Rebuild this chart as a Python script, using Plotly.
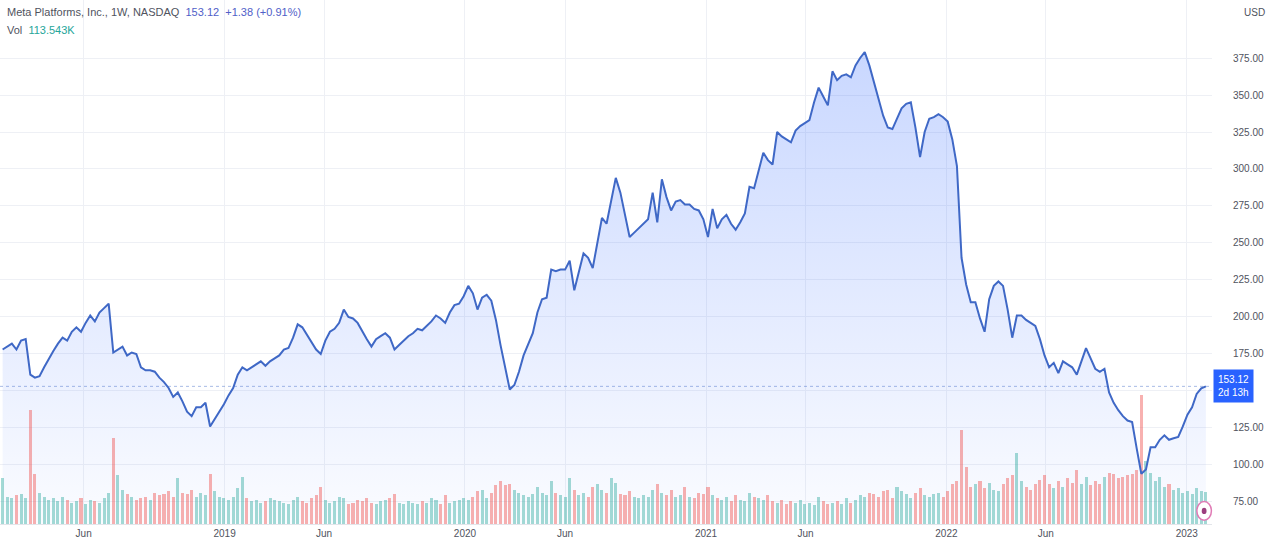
import pandas as pd
import plotly.graph_objects as go

# ---- data (weekly closes, Meta Platforms 1W) ----
week_start = "2018-01-29"
price = [
    178, 180, 182, 178, 184, 185, 161, 159, 160, 166,
    172, 177, 182, 186, 184, 190, 193, 190, 196, 201,
    197, 203, 206, 209, 176, 178, 180, 174, 176, 175,
    166, 164, 164, 163, 159, 156, 152, 146, 149, 143,
    136, 133, 139, 139, 142, 126, 131, 136, 141, 147,
    152, 161, 166, 164, 166, 168, 170, 167, 170, 172,
    174, 178, 179, 186, 195, 193, 188, 183, 178, 175,
    184, 190, 192, 196, 205, 200, 199, 196, 190, 185,
    180, 185, 187, 189, 186, 178, 181, 184, 187, 189,
    192, 191, 194, 197, 201, 199, 196, 203, 208, 209,
    214, 221, 216, 205, 213, 215, 211, 198, 181, 166,
    151, 154, 163, 174, 181, 189, 203, 212, 213, 232,
    231, 232, 232, 238, 218, 230, 243, 240, 233, 250,
    267, 263, 279, 294, 284, 268, 254, 257, 260, 263,
    266, 284, 264, 293, 281, 272, 278, 279, 276, 276,
    273, 272, 266, 254, 273, 260, 266, 269, 263, 259,
    264, 270, 288, 287, 300, 311, 306, 303, 325, 322,
    320, 318, 326, 329, 331, 333, 345, 355, 349, 343,
    366, 360, 363, 364, 362, 370, 375, 379, 370, 358,
    347, 336, 328, 327, 334, 341, 344, 345, 328, 308,
    325, 334, 335, 337, 335, 332, 320, 302, 240, 222,
    210, 210, 199, 190, 212, 221, 224, 221, 205, 186,
    201, 201, 198, 196, 194, 185, 174, 166, 169, 162,
    170, 168, 166, 161, 170, 179, 172, 165, 163, 165,
    149, 142, 137, 133, 130, 129, 111, 94, 97, 112,
    112, 117, 120, 117, 118, 119, 126, 134, 139, 148,
    151.74, 153.12,
]
volume_m = [
    160, 95, 90, 100, 105, 90, 400, 175, 110, 95,
    85, 90, 80, 95, 85, 75, 80, 90, 70, 85,
    80, 75, 90, 110, 300, 170, 120, 105, 95, 85,
    90, 95, 85, 110, 100, 105, 115, 95, 160, 110,
    105, 120, 95, 110, 100, 175, 115, 95, 90, 85,
    95, 125, 165, 90, 80, 85, 75, 80, 90, 85,
    80, 75, 70, 85, 95, 80, 75, 90, 100, 130,
    85, 75, 80, 95, 90, 70, 75, 85, 80, 90,
    75, 70, 80, 85, 90, 105, 75, 70, 80, 75,
    70, 80, 75, 90, 85, 70, 100, 75, 80, 85,
    90, 85, 95, 115, 120, 90, 110, 135, 150, 135,
    140, 120, 110, 100, 95, 105, 130, 110, 100, 150,
    110, 100, 95, 160, 120, 100, 110, 95, 130, 140,
    120, 110, 160, 145, 105, 100, 115, 95, 90, 100,
    95, 120, 140, 110, 100, 120, 95, 100, 130, 95,
    90, 110, 105, 130, 100, 90, 85, 95, 80, 100,
    85, 80, 110, 95, 90, 85, 100, 80, 75, 85,
    70, 80, 75, 85, 70, 75, 65, 95, 80, 70,
    75, 80, 70, 90, 75, 85, 100, 95, 110, 105,
    95, 115, 120, 90, 130, 115, 105, 90, 110, 125,
    100, 95, 105, 110, 95, 115, 140, 150, 330, 200,
    130, 140, 150, 125, 145, 120, 115, 140, 160, 170,
    250, 150, 130, 120, 140, 155, 170, 140, 125, 150,
    130, 160, 145, 190, 140, 165, 135, 150, 140, 165,
    180, 175, 160, 165, 170, 175, 190, 450, 220, 180,
    150, 165, 130, 140, 120, 125, 110, 115, 105, 125,
    115, 113.5,
]
tick_dates = ["2018-06-01", "2019-01-01", "2019-06-01", "2020-01-01", "2020-06-01",
              "2021-01-01", "2021-06-01", "2022-01-01", "2022-06-01", "2023-01-01"]
tick_text = ["Jun", "2019", "Jun", "2020", "Jun", "2021", "Jun", "2022", "Jun", "2023"]
price_ticks = [75, 100, 125, 150, 175, 200, 225, 250, 275, 300, 325, 350, 375]
last_price = 153.12

n = min(len(price), len(volume_m))
price = price[:n]
volume_m = volume_m[:n]
dates = pd.date_range(week_start, periods=n, freq="7D")

up_col = "rgba(38,166,154,0.42)"
dn_col = "rgba(239,83,80,0.45)"
vol_colors = [up_col if (i == 0 or price[i] >= price[i - 1]) else dn_col for i in range(n)]

FONT = "Liberation Sans"
yr = [60.1, 414.2]

fig = go.Figure()
fig.add_trace(go.Scatter(
    x=dates, y=price, mode="none", fill="tozeroy",
    fillgradient=dict(type="vertical", start=60, stop=390,
                      colorscale=[[0, "rgba(41,98,255,0.02)"], [1, "rgba(41,98,255,0.26)"]]),
    hoverinfo="skip", showlegend=False, yaxis="y"))
fig.add_trace(go.Bar(
    x=dates, y=volume_m, marker=dict(color=vol_colors, line=dict(width=0)),
    width=4.6 * 86400000, showlegend=False, yaxis="y2"))
fig.add_trace(go.Scatter(
    x=dates, y=price, mode="lines", line=dict(color="#3f68c6", width=2),
    showlegend=False, yaxis="y3"))

fig.update_layout(
    width=1280, height=548,
    margin=dict(l=0, r=68, t=0, b=24),
    paper_bgcolor="white", plot_bgcolor="white",
    font=dict(family=FONT, size=11, color="#50535e"),
    bargap=0,
    xaxis=dict(type="date", range=["2018-01-25", "2023-02-08 07:00"],
               tickvals=tick_dates, ticktext=tick_text, showgrid=True,
               gridcolor="#eef0f5", gridwidth=1, showline=True, linecolor="#e3e5ea",
               ticks="", tickfont=dict(size=10, color="#50535e"), zeroline=False),
    yaxis=dict(range=yr, side="right", tickvals=price_ticks,
               ticktext=["" if v == 150 else f"{v:.2f}" for v in price_ticks], showgrid=True,
               gridcolor="#eef0f5", zeroline=False, ticks="", ticklabelstandoff=20,
               tickfont=dict(size=10, color="#50535e")),
    yaxis2=dict(range=[0, 1834], overlaying="y", visible=False),
    yaxis3=dict(range=yr, overlaying="y", visible=False),
    shapes=[
        dict(type="line", xref="paper", x0=0, x1=1, yref="y", y0=last_price, y1=last_price,
             line=dict(color="rgba(63,104,198,0.45)", width=1, dash="dot"), layer="above"),
        dict(type="circle", xref="paper", yref="paper", x0=0.9875, x1=0.9995,
             y0=0.007, y1=0.043, line=dict(color="#e07bb5", width=1.5),
             fillcolor="white", layer="above"),
        dict(type="circle", xref="paper", yref="paper", x0=0.9915, x1=0.9955,
             y0=0.019, y1=0.031, line=dict(width=0), fillcolor="#9c3f7f", layer="above"),
    ],
    annotations=[
        dict(xref="paper", yref="paper", x=0.004, y=0.977, xanchor="left", yanchor="middle",
             showarrow=False, font=dict(size=11, color="#50535e"),
             text="Meta Platforms, Inc., 1W, NASDAQ  "
                  "<span style='color:#5060c8'>153.12  +1.38 (+0.91%)</span>"),
        dict(xref="paper", yref="paper", x=0.004, y=0.943, xanchor="left", yanchor="middle",
             showarrow=False, font=dict(size=11, color="#50535e"),
             text="Vol  <span style='color:#26a69a'>113.543K</span>"),
        dict(xref="paper", yref="paper", x=1, y=0.977, xanchor="left", yanchor="middle",
             xshift=30, showarrow=False, font=dict(size=10, color="#50535e"), text="USD"),
        dict(xref="paper", yref="y", x=1, y=last_price, xanchor="left", yanchor="middle",
             xshift=1, showarrow=False, bgcolor="#2962ff", borderpad=4,
             font=dict(size=10, color="white"), text="153.12<br>2d 13h", align="right"),
    ],
)

fig.write_html("out.html", config={"displayModeBar": False},
               post_script="document.body.style.margin='0px';")
